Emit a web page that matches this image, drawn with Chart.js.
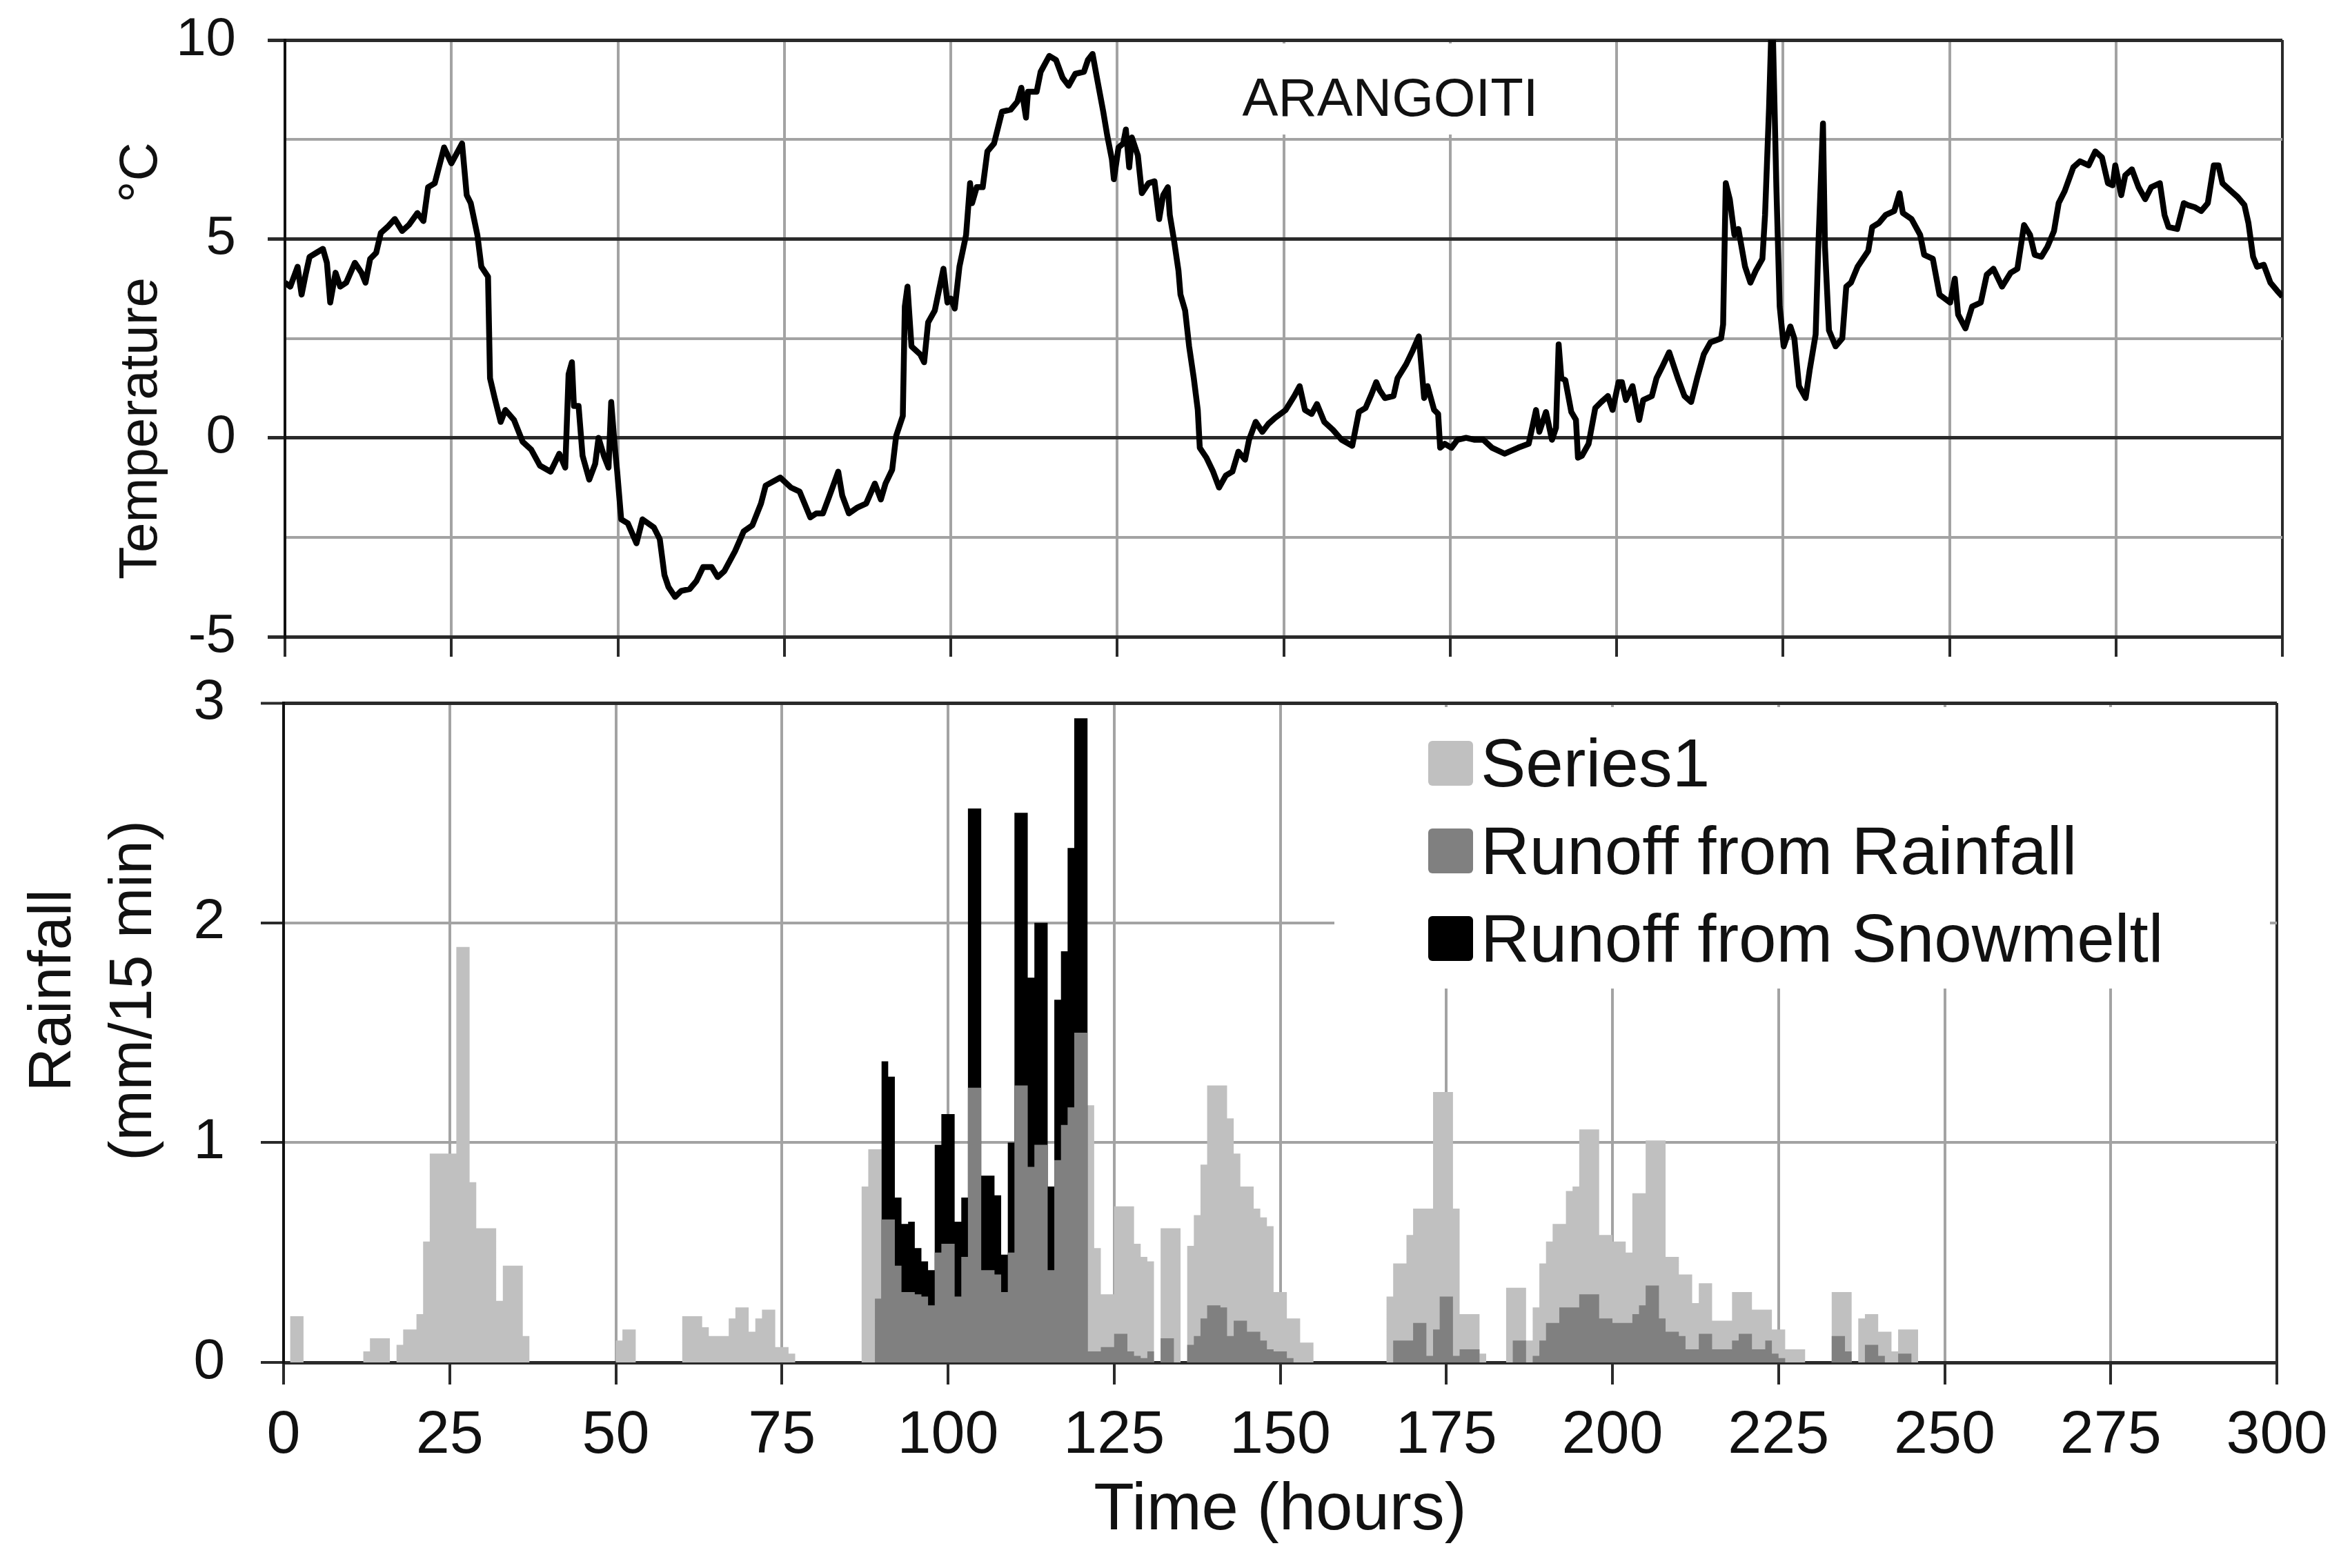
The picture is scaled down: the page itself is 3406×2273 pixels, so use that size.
<!DOCTYPE html>
<html lang="en">
<head>
<meta charset="UTF-8">
<title>Arangoiti - temperature and rainfall</title>
<script src="https://cdn.jsdelivr.net/npm/chart.js"></script>
<style>
  html, body { margin: 0; padding: 0; background: #fff; }
  body { width: 3406px; height: 2273px; position: relative; overflow: hidden;
         font-family: "Liberation Sans", Arial, sans-serif; }
  canvas { position: absolute; left: 0; }
  #tempChart { top: 0; }
  #rainChart { top: 960px; }
  #station { position: absolute; left: 1790px; top: 63px; width: 450px;
             padding: 35px 0 10px; line-height: 87px; font-size: 78px;
             text-align: center; background: #fff; color: #111; }
  #legend { position: absolute; left: 1934px; top: 1025px; width: 1356px; height: 408px;
            box-sizing: border-box; padding: 18px 0 0 136px; background: #fff; }
  .item { height: 127px; display: flex; align-items: center; font-size: 98px; color: #111; }
  .swatch { width: 65px; height: 65px; margin-right: 11px; border-radius: 6px; }
</style>
</head>
<body>
<canvas id="tempChart" width="3406" height="1000"></canvas>
<canvas id="rainChart" width="3406" height="1313"></canvas>
<div id="station">ARANGOITI</div>
<div id="legend"></div>

<script>
// Temperature (°C), time in hours
const tempTime = [
  0, 0.8, 1.9, 2.5, 3.1, 3.7, 4.7, 5.7, 6.3, 6.8, 7.6, 8.3, 9.2, 10.5, 11.5, 12.1, 12.8, 13.7, 14.4, 15.4,
  16.5, 17.6, 18.6, 19.9, 20.8, 21.5, 22.5, 23.9, 25, 26.6, 27.3, 27.9, 28.9, 29.5, 30.5, 30.8, 31.5, 32.4, 33.1, 34.4,
  35.7, 37, 38.3, 39.9, 41.2, 42.1, 42.6, 43.1, 43.4, 44.1, 44.7, 45.7, 46.6, 47.1, 47.9, 48.6, 49, 49.5, 49.9, 50.5,
  51.5, 52.8, 53.7, 55.4, 56.3, 57, 57.6, 58.6, 59.5, 60.8, 61.8, 62.8, 64.1, 65, 66, 67.6, 68.9, 70.2, 71.5, 72.2,
  74.4, 76, 77.3, 78.9, 79.8, 80.8, 81.8, 83.1, 83.7, 84.7, 86, 87.3, 88.6, 89.5, 90.2, 91.2, 91.8, 92.8, 93.1, 93.5,
  94.1, 95.4, 96, 96.6, 97.6, 98.9, 99.5,
  100, 100.6, 101.3, 102.3, 102.9, 103.2, 103.9, 104.8, 105.5, 106.5, 107.7, 109, 110, 110.6, 111.3, 111.6, 112.9, 113.5,
  114.8, 115.8, 116.8, 117.7, 118.7, 120, 120.6, 121.3, 121.9, 122.9, 123.5, 124.2, 124.5, 125.2, 125.9, 126.3, 126.8,
  127.2, 128.1, 128.7, 129.7, 130.6, 131.3, 131.9, 132.6, 132.9, 133.5, 134.2, 134.5, 135.2, 135.8, 136.5, 137.1, 137.4,
  138.4, 139.4, 140.3, 141.3, 142.3, 143.2, 144.2, 144.8, 145.8, 146.8, 147.7, 148.7, 150.3, 151.6, 152.4, 153.2, 154.2,
  155, 156.1, 157.4, 158.7, 160.3, 161.3, 162.3, 163.2, 163.9, 164.4, 165.2, 166.5, 167.1, 168.4, 169.4, 170.3, 171.1,
  171.6, 172.6, 173.2, 173.5, 174.2, 175.2, 176.1, 177.4, 178.7, 180, 181.3, 183.2, 185.2, 186.8, 187.9, 188.4, 189.4,
  190.3, 190.9, 191.3, 191.7, 192.3, 193.2, 193.9, 194.2, 194.8, 195.8, 196.8, 197.7, 198.7, 199.4,
  200.3, 200.8, 201.4, 202.4, 203.4, 204, 205.3, 206, 206.9, 207.9, 209.2, 210.2, 211.2, 212.1, 213.1, 214.1, 215.7,
  216, 216.4, 217, 217.7, 218.3, 219.3, 220.1, 220.9, 221.9, 222.3, 222.9, 223.2, 223.5, 224, 224.5, 225.1, 226.1,
  226.7, 227.4, 228.4, 229, 229.9, 230.3, 231, 231.3, 231.9, 232.9, 233.9, 234.5, 235.2, 236.2, 237.8, 238.4, 239.4,
  240.4, 241.7, 242.5, 243, 244.3, 245.6, 246.2, 247.5, 248.5, 250.1, 250.8, 251.3, 252.4, 253.4, 254.7, 255.6, 256.6,
  257.9, 259.2, 260.2, 261.2, 262.1, 262.8, 263.8, 264.7, 265.7, 266.4, 267.3, 268.6, 269.6, 270.9, 271.9, 272.9, 273.8,
  274.5, 274.9, 275.8, 276.4, 277.4, 278.4, 279.4, 280.3, 281.6, 282.3, 282.9, 284.2, 285.2, 285.8, 286.8, 287.8, 288.8,
  289.7, 290.4, 291, 292.3, 293.3, 294.3, 294.9, 295.6, 296.2, 297.2, 298.2, 299.2, 300
];
const tempC = [
  3.9, 3.8, 4.3, 3.6, 4.1, 4.55, 4.65, 4.75, 4.4, 3.4, 4.15, 3.8, 3.9, 4.4, 4.15, 3.9, 4.5, 4.65, 5.15, 5.3,
  5.5, 5.2, 5.35, 5.65, 5.45, 6.3, 6.4, 7.3, 6.9, 7.4, 6.1, 5.9, 5.1, 4.3, 4.05, 1.5, 1.0, 0.4, 0.7, 0.45,
  -0.1, -0.3, -0.7, -0.85, -0.4, -0.75, 1.6, 1.9, 0.8, 0.8, -0.45, -1.05, -0.65, 0, -0.45, -0.75, 0.9, -0.15, -0.85, -2.05,
  -2.15, -2.65, -2.05, -2.25, -2.55, -3.45, -3.75, -4.0, -3.85, -3.8, -3.6, -3.25, -3.25, -3.5, -3.35, -2.85, -2.35, -2.2, -1.65, -1.2,
  -1.0, -1.25, -1.35, -2.0, -1.9, -1.9, -1.45, -0.85, -1.45, -1.9, -1.75, -1.65, -1.15, -1.55, -1.15, -0.8, 0.05, 0.55, 3.3, 3.8,
  2.3, 2.1, 1.9, 2.9, 3.2, 4.25, 3.4,
  3.5, 3.25, 4.3, 5.1, 6.4, 5.9, 6.3, 6.3, 7.2, 7.4, 8.2, 8.25, 8.45, 8.8, 8.05, 8.7, 8.7, 9.2,
  9.6, 9.5, 9.05, 8.85, 9.15, 9.2, 9.5, 9.65, 9.1, 8.2, 7.6, 7.0, 6.5, 7.3, 7.4, 7.75, 6.8,
  7.55, 7.1, 6.15, 6.4, 6.45, 5.5, 6.1, 6.3, 5.6, 5.0, 4.2, 3.6, 3.2, 2.3, 1.5, 0.7, -0.25,
  -0.5, -0.85, -1.25, -0.95, -0.85, -0.35, -0.55, -0.05, 0.4, 0.15, 0.35, 0.5, 0.7, 1.05, 1.3, 0.7, 0.6,
  0.85, 0.4, 0.2, -0.05, -0.2, 0.65, 0.75, 1.1, 1.4, 1.2, 1.0, 1.05, 1.5, 1.85, 2.2, 2.55, 1.0,
  1.3, 0.7, 0.6, -0.25, -0.15, -0.25, -0.05, 0, -0.05, -0.05, -0.25, -0.4, -0.25, -0.15, 0.7, 0.15, 0.65,
  -0.05, 0.25, 2.35, 1.5, 1.45, 0.65, 0.45, -0.5, -0.45, -0.15, 0.75, 0.9, 1.05, 0.7,
  1.4, 1.4, 0.95, 1.3, 0.45, 0.95, 1.05, 1.5, 1.8, 2.15, 1.5, 1.05, 0.9, 1.5, 2.1, 2.4, 2.5,
  2.85, 6.4, 6.0, 5.1, 5.25, 4.3, 3.9, 4.2, 4.5, 5.6, 8.3, 10, 10, 6.3, 3.3, 2.3, 2.8,
  2.5, 1.3, 1.0, 1.7, 2.6, 4.8, 7.9, 4.8, 2.7, 2.3, 2.5, 3.8, 3.9, 4.3, 4.7, 5.3, 5.4,
  5.6, 5.7, 6.15, 5.65, 5.5, 5.1, 4.6, 4.5, 3.6, 3.4, 4.0, 3.1, 2.75, 3.3, 3.4, 4.1, 4.25,
  3.8, 4.15, 4.25, 5.35, 5.1, 4.6, 4.55, 4.8, 5.2, 5.9, 6.2, 6.8, 6.95, 6.85, 7.2, 7.05, 6.4,
  6.35, 6.85, 6.1, 6.6, 6.75, 6.3, 6.0, 6.3, 6.4, 5.6, 5.3, 5.25, 5.9, 5.85, 5.8, 5.7, 5.9,
  6.85, 6.85, 6.4, 6.2, 6.05, 5.85, 5.4, 4.55, 4.3, 4.35, 3.9, 3.7, 3.55
];

// Lower panel, one value per hour starting at hour 0 (mm / 15 min)
const seriesNames = ['Series1', 'Runoff from Rainfall', 'Runoff from Snowmeltl'];
const series1 = [
  0, 0.21, 0.21, 0, 0, 0, 0, 0, 0, 0, 0, 0, 0.05, 0.11, 0.11, 0.11, 0, 0.08, 0.15, 0.15, 0.22, 0.55, 0.95, 0.95, 0.95,
  0.95, 1.89, 1.89, 0.82, 0.61, 0.61, 0.61, 0.28, 0.44, 0.44, 0.44, 0.12, 0, 0, 0, 0, 0, 0, 0, 0, 0, 0, 0, 0, 0,
  0.1, 0.15, 0.15, 0, 0, 0, 0, 0, 0, 0, 0.21, 0.21, 0.21, 0.16, 0.12, 0.12, 0.12, 0.2, 0.25, 0.25, 0.14, 0.2, 0.24, 0.24, 0.07,
  0.07, 0.04, 0, 0, 0, 0, 0, 0, 0, 0, 0, 0, 0.8, 0.97, 0.97, 0.65, 0.65, 0.44, 0.32, 0.32, 0.31, 0.3, 0.26, 0.5, 0.54,
  0.54, 0.3, 0.48, 1.25, 1.25, 0.42, 0.42, 0.4, 0.32, 0.5, 1.26, 1.26, 0.89, 0.99, 0.99, 0.42, 0.92, 1.08, 1.16, 1.5, 1.5, 1.17, 0.52, 0.31, 0.31,
  0.71, 0.71, 0.71, 0.54, 0.48, 0.46, 0, 0.61, 0.61, 0.61, 0, 0.53, 0.67, 0.9, 1.26, 1.26, 1.26, 1.11, 0.95, 0.8, 0.8, 0.7, 0.66, 0.62, 0.32,
  0.32, 0.2, 0.2, 0.09, 0.09, 0, 0, 0, 0, 0, 0, 0, 0, 0, 0, 0, 0.3, 0.45, 0.45, 0.58, 0.7, 0.7, 0.7, 1.23, 1.23,
  1.23, 0.7, 0.22, 0.22, 0.22, 0.04, 0, 0, 0, 0.34, 0.34, 0.34, 0.1, 0.25, 0.45, 0.55, 0.63, 0.63, 0.78, 0.8, 1.06, 1.06, 1.06, 0.58, 0.58,
  0.55, 0.55, 0.5, 0.77, 0.77, 1.01, 1.01, 1.01, 0.48, 0.48, 0.4, 0.4, 0.27, 0.36, 0.36, 0.19, 0.19, 0.19, 0.32, 0.32, 0.32, 0.24, 0.24, 0.24, 0.15,
  0.15, 0.06, 0.06, 0.06, 0, 0, 0, 0, 0.32, 0.32, 0.32, 0, 0.2, 0.22, 0.22, 0.14, 0.14, 0.05, 0.15, 0.15, 0.15, 0, 0, 0, 0
];
const rainfallRunoff = [
  0, 0, 0, 0, 0, 0, 0, 0, 0, 0, 0, 0, 0, 0, 0, 0, 0, 0, 0, 0, 0, 0, 0, 0, 0,
  0, 0, 0, 0, 0, 0, 0, 0, 0, 0, 0, 0, 0, 0, 0, 0, 0, 0, 0, 0, 0, 0, 0, 0, 0,
  0, 0, 0, 0, 0, 0, 0, 0, 0, 0, 0, 0, 0, 0, 0, 0, 0, 0, 0, 0, 0, 0, 0, 0, 0,
  0, 0, 0, 0, 0, 0, 0, 0, 0, 0, 0, 0, 0, 0, 0.29, 0.65, 0.65, 0.44, 0.32, 0.32, 0.31, 0.3, 0.26, 0.5, 0.54,
  0.54, 0.3, 0.48, 1.25, 1.25, 0.42, 0.42, 0.4, 0.32, 0.5, 1.26, 1.26, 0.89, 0.99, 0.99, 0.42, 0.92, 1.08, 1.16, 1.5, 1.5, 0.05, 0.05, 0.07, 0.07,
  0.13, 0.13, 0.05, 0.03, 0.02, 0.05, 0, 0.11, 0.11, 0, 0, 0.08, 0.12, 0.2, 0.26, 0.26, 0.25, 0.12, 0.19, 0.19, 0.14, 0.14, 0.1, 0.06, 0.05,
  0.05, 0.02, 0, 0, 0, 0, 0, 0, 0, 0, 0, 0, 0, 0, 0, 0, 0, 0.1, 0.1, 0.1, 0.18, 0.18, 0.03, 0.15, 0.3,
  0.3, 0.03, 0.06, 0.06, 0.06, 0, 0, 0, 0, 0, 0.1, 0.1, 0, 0.03, 0.1, 0.18, 0.18, 0.25, 0.25, 0.25, 0.31, 0.31, 0.31, 0.2, 0.2,
  0.18, 0.18, 0.18, 0.22, 0.26, 0.35, 0.35, 0.2, 0.14, 0.14, 0.12, 0.06, 0.06, 0.13, 0.13, 0.06, 0.06, 0.06, 0.1, 0.13, 0.13, 0.06, 0.06, 0.1, 0.04,
  0.02, 0, 0, 0, 0, 0, 0, 0, 0.12, 0.12, 0.05, 0, 0, 0.08, 0.08, 0.03, 0, 0, 0.04, 0.04, 0, 0, 0, 0, 0
];
const snowmeltRunoff = [
  0, 0, 0, 0, 0, 0, 0, 0, 0, 0, 0, 0, 0, 0, 0, 0, 0, 0, 0, 0, 0, 0, 0, 0, 0,
  0, 0, 0, 0, 0, 0, 0, 0, 0, 0, 0, 0, 0, 0, 0, 0, 0, 0, 0, 0, 0, 0, 0, 0, 0,
  0, 0, 0, 0, 0, 0, 0, 0, 0, 0, 0, 0, 0, 0, 0, 0, 0, 0, 0, 0, 0, 0, 0, 0, 0,
  0, 0, 0, 0, 0, 0, 0, 0, 0, 0, 0, 0, 0, 0, 0, 1.37, 1.3, 0.75, 0.63, 0.64, 0.52, 0.46, 0.42, 0.99, 1.13,
  1.13, 0.64, 0.75, 2.52, 2.52, 0.85, 0.85, 0.76, 0.49, 1.0, 2.5, 2.5, 1.75, 2.0, 2.0, 0.8, 1.65, 1.87, 2.34, 2.93, 2.93, 0, 0, 0, 0
];
const seriesColors = ['#c0c0c0', '#808080', '#000000'];
const timeTicks = { min: 0, max: 300, step: 25 };

const DARK = '#2a2a2a';
const GRID = '#a3a3a3';
Chart.defaults.font.family = '"Liberation Sans", Arial, sans-serif';
Chart.defaults.color = '#111';

const hourly = arr => arr.map((v, h) => ({ x: h, y: v }));

// fixed axis box, and no extra room for the end labels
const fixWidth = w => s => { s.width = w; s.paddingTop = 0; s.paddingBottom = 0; };

// Upper panel: temperature
new Chart(document.getElementById('tempChart'), {
  type: 'line',
  data: {
    datasets: [{
      label: 'Temperature',
      data: tempTime.map((t, i) => ({ x: t, y: tempC[i] })),
      borderColor: '#000',
      borderWidth: 8.5,
      borderJoinStyle: 'round',
      pointRadius: 0,
      tension: 0
    }]
  },
  options: {
    responsive: false,
    animation: false,
    devicePixelRatio: 1,
    layout: { padding: { top: 58, right: 98, left: 0, bottom: 0 } },
    plugins: { legend: { display: false }, tooltip: { enabled: false } },
    scales: {
      x: {
        type: 'linear', min: timeTicks.min, max: timeTicks.max,
        ticks: { stepSize: timeTicks.step, display: false },
        grid: {
          color: c => (c.tick.value === timeTicks.max || c.tick.value === 0) ? DARK : GRID,
          lineWidth: 4, tickLength: 29, tickColor: DARK, tickWidth: 4
        },
        border: { color: DARK, width: 5 },
        afterFit: s => { s.height = 77; }
      },
      y: {
        min: -5, max: 10,
        ticks: { stepSize: 2.5, callback: v => (v % 5 === 0 ? String(v) : ''), font: { size: 78 }, padding: 46 },
        grid: {
          color: c => (c.tick.value % 5 === 0 ? DARK : GRID),
          lineWidth: c => (c.tick.value % 5 === 0 ? 5 : 4),
          tickLength: 25,
          tickColor: c => (c.tick.value % 5 === 0 ? DARK : 'rgba(0,0,0,0)'),
          tickWidth: 5
        },
        border: { color: '#111', width: 4 },
        title: { display: true, text: 'Temperature     \u00b0C   ', font: { size: 78 }, padding: { top: 159, bottom: 0 } },
        afterFit: fixWidth(413)
      }
    }
  }
});

// Lower panel: rainfall and runoff
const rainChart = new Chart(document.getElementById('rainChart'), {
  type: 'line',
  data: {
    datasets: [series1, rainfallRunoff, snowmeltRunoff].map((arr, i) => ({
      label: seriesNames[i],
      data: hourly(arr),
      backgroundColor: seriesColors[i],
      borderColor: 'rgba(0,0,0,0)',
      borderWidth: 0,
      fill: 'origin',
      stepped: true,
      pointRadius: 0,
      order: [2, 0, 1][i]
    }))
  },
  options: {
    responsive: false,
    animation: false,
    devicePixelRatio: 1,
    layout: { padding: { top: 59, right: 106, left: 0, bottom: 0 } },
    plugins: { legend: { display: false }, tooltip: { enabled: false } },
    scales: {
      x: {
        type: 'linear', min: timeTicks.min, max: timeTicks.max,
        ticks: { stepSize: timeTicks.step, font: { size: 88 }, padding: 22, maxRotation: 0, autoSkip: false },
        grid: {
          color: c => (c.tick.value === timeTicks.max || c.tick.value === 0) ? DARK : GRID,
          lineWidth: 4, tickLength: 32, tickColor: DARK, tickWidth: 4
        },
        border: { color: DARK, width: 5 },
        title: { display: true, text: 'Time (hours)', font: { size: 96 }, padding: { top: 0, bottom: 25 } },
        afterFit: s => { s.height = 298; }
      },
      y: {
        min: 0, max: 3,
        ticks: { stepSize: 1, font: { size: 82 }, padding: 52 },
        grid: {
          color: c => (c.tick.value === 3 ? DARK : GRID),
          lineWidth: c => (c.tick.value === 3 ? 5 : 4),
          tickLength: 33, tickColor: DARK, tickWidth: 4
        },
        border: { color: '#111', width: 4 },
        title: {
          display: true,
          text: ['     Rainfall', '     (mm/15 min)'],
          font: { size: 88, lineHeight: 1.33 },
          padding: { top: 19, bottom: 0 }
        },
        afterFit: fixWidth(411)
      }
    }
  }
});

// Legend box inside the lower panel, built from the datasets
const legend = document.getElementById('legend');
rainChart.data.datasets.forEach(ds => {
  const item = document.createElement('div');
  item.className = 'item';
  const sw = document.createElement('span');
  sw.className = 'swatch';
  sw.style.background = ds.backgroundColor;
  item.appendChild(sw);
  item.appendChild(document.createTextNode(ds.label));
  legend.appendChild(item);
});
</script>
</body>
</html>
